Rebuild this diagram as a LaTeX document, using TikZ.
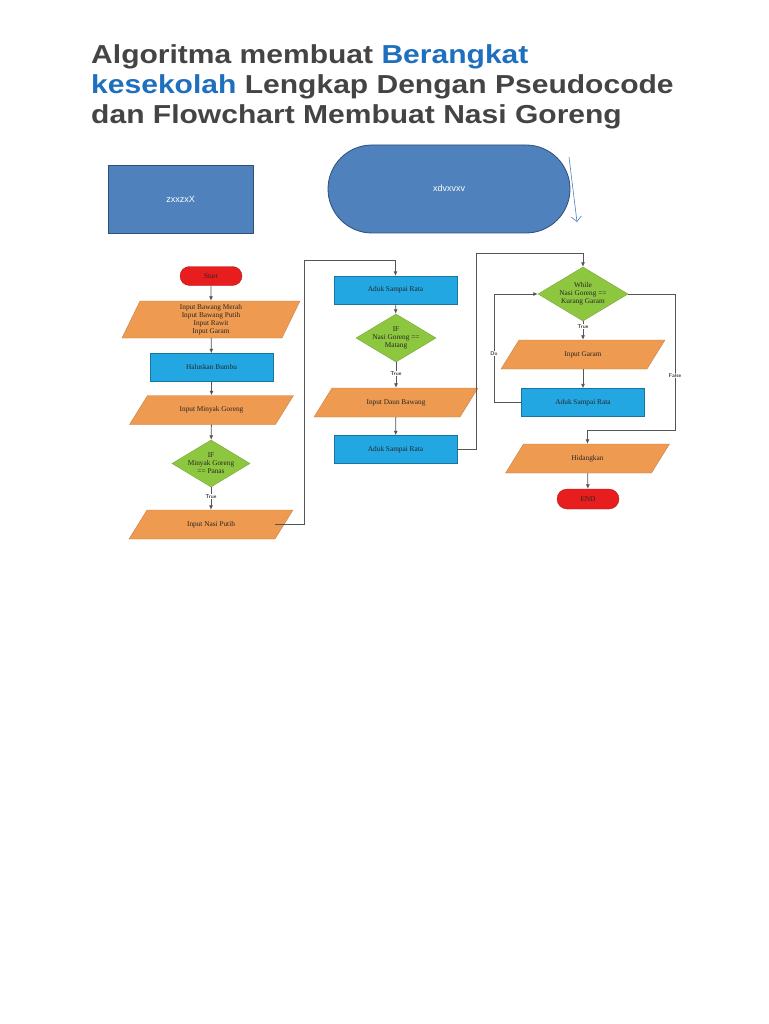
\documentclass[tikz,border=0pt]{standalone}
\usepackage{fontspec}
\setmainfont{Liberation Serif}
\newfontfamily\titlefont{Liberation Sans}
\usetikzlibrary{shapes.geometric,shapes.misc,arrows.meta}
\definecolor{ora}{HTML}{EE9A50}
\definecolor{blu}{HTML}{22A7E3}
\definecolor{gre}{HTML}{8DC63F}
\definecolor{redd}{HTML}{E81E1E}
\definecolor{big}{HTML}{4F81BD}
\definecolor{bigb}{HTML}{2E4F7A}
\definecolor{ttl}{HTML}{444444}
\definecolor{tbl}{HTML}{1F6FBF}
\definecolor{ln}{HTML}{555555}
\newcommand{\mypara}[6]{%
  \fill[ora,draw=ora!80!black,line width=0.3pt] (#2-#4/2+9,#3-#5/2) -- (#2+#4/2+9,#3-#5/2) -- (#2+#4/2-9,#3+#5/2) -- (#2-#4/2-9,#3+#5/2) -- cycle;
  \node[txt,minimum width=#4-18,minimum height=#5,inner sep=0] (#1) at (#2,#3) {#6};}
\newcommand{\mydia}[6]{%
  \fill[gre,draw=gre!80!black,line width=0.3pt] (#2,#3-#5/2) -- (#2+#4/2,#3) -- (#2,#3+#5/2) -- (#2-#4/2,#3) -- cycle;
  \node[txt,minimum width=#4,minimum height=#5,inner sep=0,text height=0pt] (#1) at (#2,#3) {};
  \node[txt,inner sep=0] at (#2,#3) {#6};}
\begin{document}
\begin{tikzpicture}[x=1pt,y=-1pt,
  txt/.style={font=\fontsize{7.3}{8}\selectfont,align=center,text=black!85},
  procbox/.style={txt,fill=blu,draw=blu!70!black,line width=0.3pt,minimum width=123,minimum height=28,inner sep=0},
  term/.style={txt,rounded rectangle,fill=redd,draw=redd!70!black,line width=0.3pt,minimum width=62,minimum height=19,inner sep=0},
  conn/.style={draw=ln,line width=0.8pt,-{Latex[length=4.5pt,width=4pt]}},
  lab/.style={font=\fontsize{5.5}{6}\selectfont\sffamily,fill=white,inner sep=0.5pt}]
\useasboundingbox (0,0) rectangle (768,1024);
\fill[white] (0,0) rectangle (768,1024);
% title
\node[anchor=north west,align=left,font=\titlefont\bfseries\fontsize{26}{30}\selectfont,text=ttl,inner sep=0,xscale=1.155] (title) at (91,44)
 {Algoritma membuat \textcolor{tbl}{Berangkat}\\\textcolor{tbl}{kesekolah} Lengkap Dengan Pseudocode\\dan Flowchart Membuat Nasi Goreng};
% top shapes
\node[fill=big,draw=bigb,line width=0.8pt,minimum width=145,minimum height=68,inner sep=0,text=white,font=\titlefont\fontsize{9}{10}\selectfont] (zx) at (180.5,199) {zxxzxX};
\node[rounded rectangle,fill=big,draw=bigb,line width=0.8pt,minimum width=242,minimum height=88,inner sep=0] (xd) at (449,189) {};
\node[text=white,font=\titlefont\fontsize{9}{10}\selectfont] (xdt) at (449,188) {xdvxvxv};
\coordinate (ts) at (569,157);\coordinate (te) at (577,222);
\draw[big,line width=0.6pt,-{Straight Barb[length=5pt]}] (ts) -- (te);
% column 1
\node[term] (start) at (211,276) {Start};
\mypara{p1}{211}{319.5}{160}{37}{Input Bawang Merah\\Input Bawang Putih\\Input Rawit\\Input Garam}
\node[procbox] (hal) at (211.5,367.5) {Haluskan Bumbu};
\mypara{p2}{211.5}{410}{146}{29}{Input Minyak Goreng}
\mydia{d1}{211}{463.5}{78}{47}{IF\\Minyak Goreng\\== Panas}
\mypara{p3}{211}{524.5}{146}{29}{Input Nasi Putih}
% column 2
\node[procbox] (a1) at (395.5,290) {Aduk Sampai Rata};
\mydia{d2}{396}{338}{80}{48}{IF\\Nasi Goreng ==\\Matang}
\mypara{p4}{396}{402.5}{146}{29}{Input Daun Bawang};
\node[procbox] (a2) at (395.5,449.5) {Aduk Sampai Rata};
% column 3
\mydia{d3}{583}{294}{90}{54}{While\\Nasi Goreng ==\\Kurang Garam}
\mypara{p5}{583}{354.5}{146}{29}{Input Garam}
\node[procbox] (a3) at (583,402.5) {Aduk Sampai Rata};
\mypara{p6}{587.5}{458.5}{146}{29}{Hidangkan}
\node[term,minimum height=20] (end) at (588,499) {END};
% connectors
\draw[conn] (start) -- (p1);
\draw[conn] (p1) -- (hal);
\draw[conn] (hal) -- (p2);
\draw[conn] (p2) -- (d1);
\draw[conn] (d1) -- node[lab,pos=0.4]{True} (p3);
\draw[conn] (p3.east) -- (304,524.5) -- (304,260) -| (a1.north);
\draw[conn] (a1) -- (d2);
\draw[conn] (d2) -- node[lab,pos=0.45]{True} (p4);
\draw[conn] (p4) -- (a2);
\draw[conn] (a2.east) -- (476,449.5) -- (476,253) -| (d3.north);
\draw[conn] (d3) -- node[lab,pos=0.3]{True} (p5);
\draw[conn] (p5) -- (a3);
\draw[conn] (a3.west) -- (494,402.5) -- node[lab,pos=0.45]{Do} (494,294) -- (d3.west);
\draw[conn] (d3.east) -- (675,294) -- node[lab,pos=0.6]{False} (675,430) -| (p6.north);
\draw[conn] (p6) -- (end);
\end{tikzpicture}
\end{document}
